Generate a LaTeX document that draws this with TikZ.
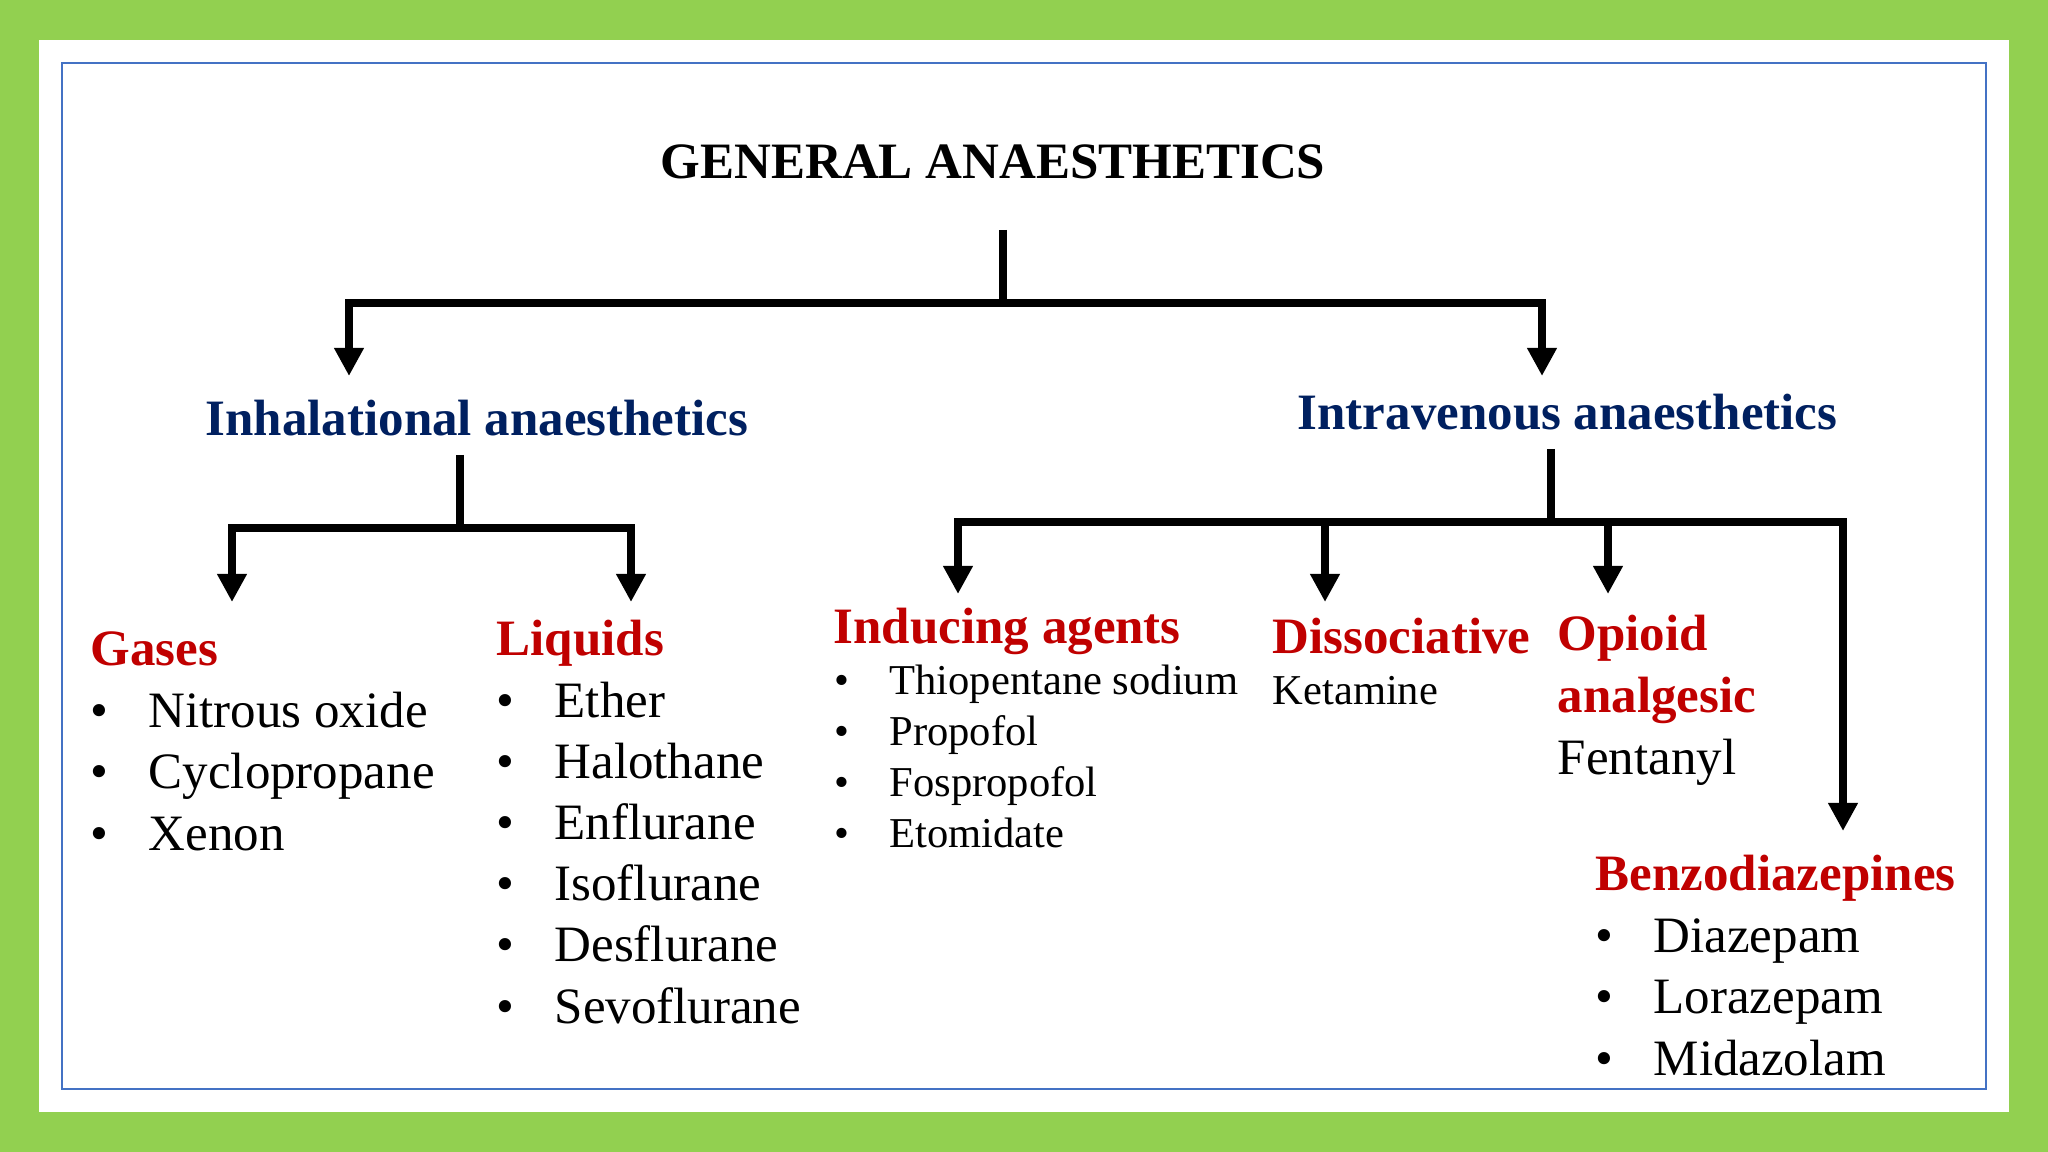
\documentclass[tikz,border=0pt]{standalone}
\usepackage{fontspec}
\setmainfont{Liberation Serif}
\usepackage{tikz}
\usetikzlibrary{arrows.meta,positioning}
\definecolor{frameGreen}{RGB}{146,208,80}
\definecolor{frameBlue}{RGB}{68,114,196}
\definecolor{headNavy}{RGB}{0,32,96}
\definecolor{classRed}{RGB}{192,0,0}
\newcommand{\bigfont}{\fontsize{14.5}{17}\selectfont}
\newcommand{\smallfont}{\fontsize{12.1}{14}\selectfont}
\newcommand{\bul}[2][16.5pt]{\makebox[#1][l]{\textbullet}#2}

\tikzset{
  txt/.style={inner sep=0pt, anchor=base west},
  maintitle/.style={inner sep=0pt, anchor=base, font=\bigfont\bfseries},
  branch/.style={txt, font=\bigfont\bfseries, text=headNavy},
  group/.style={txt, font=\bigfont\bfseries, text=classRed},
  drug/.style={txt, font=\bigfont},
  drugsmall/.style={txt, font=\smallfont},
  link/.style={line width=2.2pt, line join=miter},
  arrowdown/.style={-{Triangle[length=8pt,width=8pt]}},
  arrowboth/.style={{Triangle[length=8pt,width=8pt]}-{Triangle[length=8pt,width=8pt]}}
}

\begin{document}
\begin{tikzpicture}[x=0.01cm, y=-0.01cm]
        % Frame
        \fill[frameGreen] (0,0) rectangle (2048,1152);
        \fill[white] (39,40) rectangle (2009,1112);
        \draw[frameBlue, line width=0.6pt] (62,63) rectangle (1986,1089);
        \useasboundingbox (0,0) rectangle (2048,1152);

        % Title and the two branches
        \node[maintitle] (ga) at (993,179) {GENERAL ANAESTHETICS};
        \node[branch] (inh) at (205,436) {Inhalational anaesthetics};
        \node[branch] (iv) at (1297,430) {Intravenous anaesthetics};

        % Inhalational groups
        \node[group] (gases) at (90,666) {Gases};
        \foreach \d [count=\i from 0] in {Nitrous oxide, Cyclopropane, Xenon}
          \node[drug] (gas\i) at (90,{727+61.5*\i}) {\bul{\d}};
        \node[group] (liq) at (496,656) {Liquids};
        \foreach \d [count=\i from 0] in {Ether, Halothane, Enflurane, Isoflurane, Desflurane, Sevoflurane}
          \node[drug] (liq\i) at (496,{717+61.2*\i}) {\bul{\d}};

        % Intravenous groups
        \node[group] (ind) at (833,643) {Inducing agents};
        \foreach \d [count=\i from 0] in {Thiopentane sodium, Propofol, Fospropofol, Etomidate}
          \node[drugsmall] (ind\i) at (834,{694+51*\i}) {\bul[15.6pt]{\d}};
        \node[group] (dis) at (1272,653) {Dissociative};
        \node[drugsmall] (ket) at (1272,705) {Ketamine};
        \node[group] (opi) at (1557,650) {Opioid};
        \node[group] (ana) at (1557,712) {analgesic};
        \node[drug] (fen) at (1557,774) {Fentanyl};
        \node[group] (benz) at (1595,890) {Benzodiazepines};
        \foreach \d [count=\i from 0] in {Diazepam, Lorazepam, Midazolam}
          \node[drug] (benz\i) at (1595,{952+61.5*\i}) {\bul{\d}};

        % Junction points
        \coordinate (gaFoot) at (1003,230);
        \coordinate (busL) at (349,303);
        \coordinate (busR) at (1542,303);
        \coordinate (inhTip) at (349,376);
        \coordinate (ivTip) at (1542,376);
        \coordinate (inhFoot) at (460,455);
        \coordinate (inhBusL) at (232,528);
        \coordinate (inhBusR) at (631,528);
        \coordinate (gasTip) at (232,602);
        \coordinate (liqTip) at (631,602);
        \coordinate (ivFoot) at (1551,449);
        \coordinate (ivBusL) at (958,522);
        \coordinate (ivBusR) at (1843,522);
        \coordinate (indTip) at (958,594);
        \coordinate (disTip) at (1325,602);
        \coordinate (opiTip) at (1608,594);
        \coordinate (benzTip) at (1843,831);

        % Connectors
        \draw[link] (gaFoot) -- (gaFoot |- busL);
        \draw[link, arrowboth] (inhTip) -- (busL) -- (busR) -- (ivTip);
        \draw[link] (inhFoot) -- (inhFoot |- inhBusL);
        \draw[link, arrowboth] (gasTip) -- (inhBusL) -- (inhBusR) -- (liqTip);
        \draw[link] (ivFoot) -- (ivFoot |- ivBusL);
        \draw[link, arrowboth] (indTip) -- (ivBusL) -- (ivBusR) -- (benzTip);
        \draw[link, arrowdown] (disTip |- ivBusL) -- (disTip);
        \draw[link, arrowdown] (opiTip |- ivBusL) -- (opiTip);
      \end{tikzpicture}
\end{document}
